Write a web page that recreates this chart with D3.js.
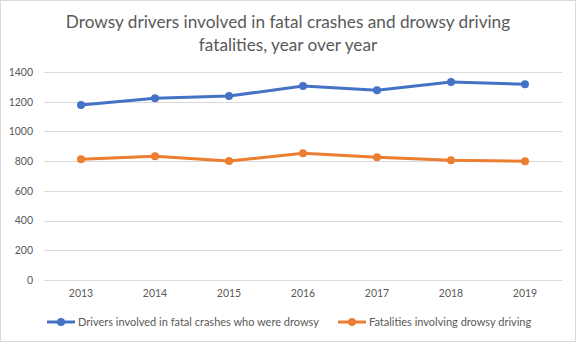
<!DOCTYPE html>
<html>
<head>
<meta charset="utf-8">
<script src="https://cdn.jsdelivr.net/npm/d3@7"></script>
<style>
  body { margin: 0; background: #fff; }
  text { font-family: Lato, "Liberation Sans", sans-serif; fill: #595959; }
</style>
</head>
<body>
<div id="chart"></div>
<script>
var years = ['2013', '2014', '2015', '2016', '2017', '2018', '2019']
var drowsyDrivers = [1178, 1223, 1238, 1306, 1277, 1333, 1317]
var drowsyFatalities = [812, 833, 801, 853, 826, 806, 800]
var yTicks = [0, 200, 400, 600, 800, 1000, 1200, 1400]
var seriesNames = ['Drivers involved in fatal crashes who were drowsy', 'Fatalities involving drowsy driving']
var seriesColors = ['#4472C4', '#ED7D31']
var titleLines = ['Drowsy drivers involved in fatal crashes and drowsy driving', 'fatalities, year over year']

var W = 576, H = 342
var margin = {top: 72, right: 14, bottom: 62, left: 44}
var width = W - margin.left - margin.right
var height = H - margin.top - margin.bottom

var svg = d3.select('#chart').append('svg')
    .attr('width', W)
    .attr('height', H)

// outer border
svg.append('rect')
    .attr('x', 0.5).attr('y', 0.5)
    .attr('width', W - 1).attr('height', H - 1)
    .attr('fill', '#fff')
    .attr('stroke', '#d9d9d9')

// title
svg.append('text')
    .attr('y', 28)
    .attr('text-anchor', 'middle')
    .style('font-size', '17.2px')
    .selectAll('tspan')
    .data(titleLines)
    .enter()
    .append('tspan')
    .attr('x', W / 2)
    .attr('dy', function(d, i) { return i == 0 ? 0 : 23 })
    .text(function(d) { return d })

var g = svg.append('g')
    .attr('transform', 'translate(' + margin.left + ',' + margin.top + ')')

var xScale = d3.scaleBand().domain(years).range([0, width])
var yScale = d3.scaleLinear().domain([0, 1400]).range([height, 0])

// gridlines
g.append('g')
    .selectAll('line')
    .data(yTicks)
    .enter()
    .append('line')
    .attr('x1', 0).attr('x2', width)
    .attr('y1', function(d) { return Math.round(yScale(d)) + 0.5 })
    .attr('y2', function(d) { return Math.round(yScale(d)) + 0.5 })
    .attr('stroke', '#d9d9d9')
    .attr('stroke-width', 1)

// y axis labels
var yAxis = d3.axisLeft(yScale).tickValues(yTicks).tickFormat(d3.format('d')).tickSize(0).tickPadding(11)
var yg = g.append('g').call(yAxis)
yg.select('.domain').remove()
yg.selectAll('text').style('font-size', '10.5px').attr('fill', '#595959')

// x axis labels
var xAxis = d3.axisBottom(xScale).tickSize(0).tickPadding(10)
var xg = g.append('g').attr('transform', 'translate(0,' + height + ')').call(xAxis)
xg.select('.domain').remove()
xg.selectAll('text').style('font-size', '10.5px').attr('fill', '#595959')

var series = [drowsyDrivers, drowsyFatalities]
var line = d3.line()
    .x(function(d, i) { return xScale(years[i]) + xScale.bandwidth() / 2 })
    .y(function(d) { return yScale(d) })

series.forEach(function(vals, si) {
    g.append('path')
        .datum(vals)
        .attr('d', line)
        .attr('fill', 'none')
        .attr('stroke', seriesColors[si])
        .attr('stroke-width', 3)
        .attr('stroke-linejoin', 'round')
        .attr('stroke-linecap', 'round')
    g.selectAll('.dot' + si)
        .data(vals)
        .enter()
        .append('circle')
        .attr('class', 'dot' + si)
        .attr('cx', function(d, i) { return xScale(years[i]) + xScale.bandwidth() / 2 })
        .attr('cy', function(d) { return yScale(d) })
        .attr('r', 4)
        .attr('fill', seriesColors[si])
})

// legend
var legendX = [47, 338]
var legend = svg.selectAll('.legend')
    .data(seriesNames)
    .enter()
    .append('g')
    .attr('class', 'legend')
    .attr('transform', function(d, i) { return 'translate(' + legendX[i] + ',322)' })
legend.append('line')
    .attr('x1', 0).attr('x2', 28)
    .attr('stroke', function(d, i) { return seriesColors[i] })
    .attr('stroke-width', 3)
legend.append('circle')
    .attr('cx', 14)
    .attr('r', 4)
    .attr('fill', function(d, i) { return seriesColors[i] })
legend.append('text')
    .attr('x', 31)
    .attr('dy', '0.35em')
    .style('font-size', '11px')
    .text(function(d) { return d })
</script>
</body>
</html>
